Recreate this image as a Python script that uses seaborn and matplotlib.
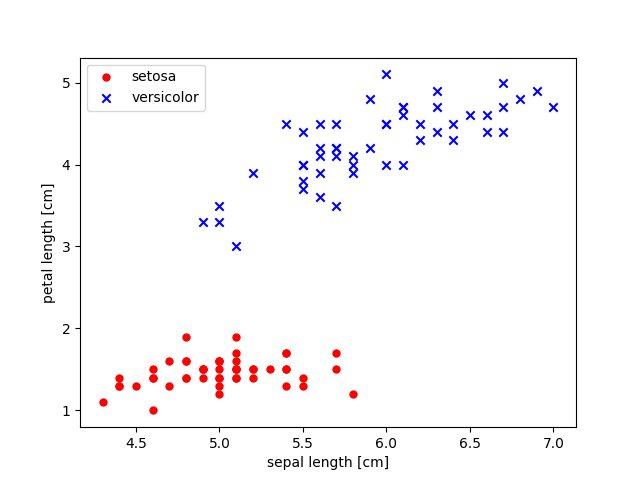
import matplotlib
matplotlib.use("Agg")
import matplotlib.pyplot as plt
import seaborn as sns

setosa_sepal = [5.1,4.9,4.7,4.6,5.0,5.4,4.6,5.0,4.4,4.9,5.4,4.8,4.8,4.3,5.8,5.7,5.4,5.1,5.7,5.1,5.4,5.1,4.6,5.1,4.8,5.0,5.0,5.2,5.2,4.7,4.8,5.4,5.2,5.5,4.9,5.0,5.5,4.9,4.4,5.1,5.0,4.5,4.4,5.0,5.1,4.8,5.1,4.6,5.3,5.0]
setosa_petal = [1.4,1.4,1.3,1.5,1.4,1.7,1.4,1.5,1.4,1.5,1.5,1.6,1.4,1.1,1.2,1.5,1.3,1.4,1.7,1.5,1.7,1.5,1.0,1.7,1.9,1.6,1.6,1.5,1.4,1.6,1.6,1.5,1.5,1.4,1.5,1.2,1.3,1.5,1.3,1.5,1.3,1.3,1.3,1.6,1.9,1.4,1.6,1.4,1.5,1.4]
versi_sepal = [7.0,6.4,6.9,5.5,6.5,5.7,6.3,4.9,6.6,5.2,5.0,5.9,6.0,6.1,5.6,6.7,5.6,5.8,6.2,5.6,5.9,6.1,6.3,6.1,6.4,6.6,6.8,6.7,6.0,5.7,5.5,5.5,5.8,6.0,5.4,6.0,6.7,6.3,5.6,5.5,5.5,6.1,5.8,5.0,5.6,5.7,5.7,6.2,5.1,5.7]
versi_petal = [4.7,4.5,4.9,4.0,4.6,4.5,4.7,3.3,4.6,3.9,3.5,4.2,4.0,4.7,3.6,4.4,4.5,4.1,4.5,3.9,4.8,4.0,4.9,4.7,4.3,4.4,4.8,5.0,4.5,3.5,3.8,3.7,3.9,5.1,4.5,4.5,4.7,4.4,4.1,4.0,4.4,4.6,4.0,3.3,4.2,4.2,4.2,4.3,3.0,4.1]

fig, ax = plt.subplots(figsize=(6.4, 4.8), dpi=100)
sns.scatterplot(x=setosa_sepal, y=setosa_petal, color="red", marker="o", s=36,
                linewidth=0, label="setosa", ax=ax)
sns.scatterplot(x=versi_sepal, y=versi_petal, color="blue", marker="x", s=36,
                linewidth=1.5, label="versicolor", ax=ax)
ax.set_xlabel("sepal length [cm]")
ax.set_ylabel("petal length [cm]")
ax.legend(loc="upper left")
fig.savefig("out.png")
